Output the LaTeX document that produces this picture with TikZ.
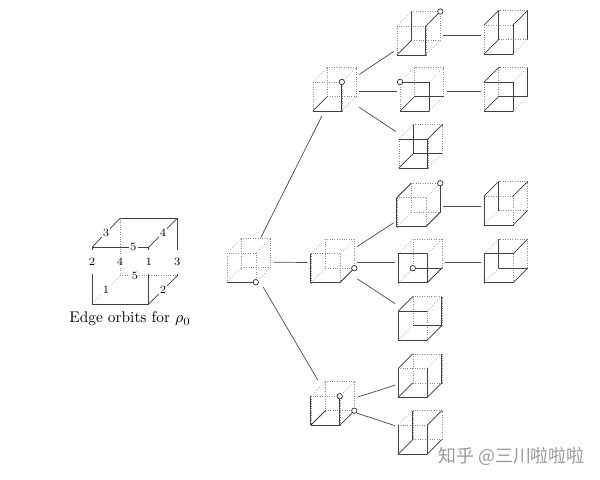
\documentclass[tikz,border=0pt]{standalone}
\usepackage{fontspec}
\usetikzlibrary{calc}
\newfontfamily\cjkfont{Noto Sans CJK SC}
\tikzset{
    % Cube parts
    cubebox/.style={
        rectangle,
        minimum size=30.6pt,
        inner sep=0pt,
        yshift=-1pt
    },
    hiddenedge/.style={
        dash pattern=on 0.5pt off 1pt,
        line width=0.28pt,
        draw=black!45
    },
    solidedge/.style={
        line width=0.45pt,
        draw=black!75
    },
    marker/.style={
        circle,
        draw=black!80,
        fill=white,
        line width=0.45pt,
        minimum size=3.4pt,
        inner sep=0pt
    },
    % Tree connectors
    link/.style={
        line width=0.45pt,
        draw=black!70
    },
    orbitlabel/.style={
        font=\scriptsize,
        fill=white,
        inner sep=0.8pt
    },
    gaplabel/.style={
        font=\scriptsize,
        fill=white,
        inner sep=0pt,
        minimum width=5pt,
        minimum height=14.4pt
    }
}
% name, centre, solid edges
\newcommand{\cubegraph}[3]{
    \node[cubebox] (#1) at (#2) {};
    \coordinate (#1-a) at ($(#2)+(-21.7,21.7)$);
    \coordinate (#1-b) at ($(#2)+(7.3,21.7)$);
    \coordinate (#1-c) at ($(#2)+(7.3,-7.3)$);
    \coordinate (#1-d) at ($(#2)+(-21.7,-7.3)$);
    \coordinate (#1-e) at ($(#2)+(-7.2,7.2)$);
    \coordinate (#1-f) at ($(#2)+(21.8,7.2)$);
    \coordinate (#1-g) at ($(#2)+(21.8,-21.8)$);
    \coordinate (#1-h) at ($(#2)+(-7.2,-21.8)$);
    \foreach \u/\v in {a/b,b/c,c/d,d/a,e/f,f/g,g/h,h/e,a/e,b/f,c/g,d/h}
        \draw[hiddenedge] (#1-\u) -- (#1-\v);
    \foreach \u/\v in {#3}
        \draw[solidedge] (#1-\u) -- (#1-\v);
}
\begin{document}
\begin{tikzpicture}[x=0.625pt, y=-0.625pt]
    \useasboundingbox (0,0) rectangle (600,480);

    % Edge orbits
    \coordinate (oa) at (92,304);
    \coordinate (ob) at (148.7,304);
    \coordinate (oc) at (148.7,247.3);
    \coordinate (od) at (92,247.3);
    \coordinate (oe) at (120,275.7);
    \coordinate (of) at (177.3,275.7);
    \coordinate (og) at (177.3,218.3);
    \coordinate (oh) at (120,218.3);
    \draw[hiddenedge] (oa) -- node[orbitlabel] (one) {1} (oe);
    \draw[hiddenedge] (oe) -- node[orbitlabel, pos=0.26] (fivelow) {5} (of);
    \draw[hiddenedge] (oe) -- (oh);
    \draw[solidedge] (oa) -- (ob);
    \draw[solidedge] (od) -- node[orbitlabel, pos=0.73] (fivetop) {5} (oc);
    \draw[solidedge] (oh) -- (og);
    \draw[solidedge] (od) -- node[orbitlabel] (three) {3} (oh);
    \draw[solidedge] (oc) -- node[orbitlabel] (four) {4} (og);
    \draw[solidedge] (ob) -- node[orbitlabel] (two) {2} (of);
    \draw[solidedge] (oa) -- (od);
    \draw[solidedge] (ob) -- (oc);
    \draw[solidedge] (of) -- (og);
    \node[gaplabel] (twomid) at (92,262) {2};
    \node[gaplabel, minimum height=8pt] (fourmid) at (120,262) {4};
    \node[gaplabel] (onemid) at (148.7,262) {1};
    \node[gaplabel] (threemid) at (177.3,262) {3};
    \node[font=\fontsize{9.6pt}{11pt}\selectfont] (caption) at (130,319) {Edge orbits for $\rho_0$};

    % Tree of cubes
    \cubegraph{root}{248.5,260.5}{a/b}
    \cubegraph{upper}{334.5,89.3}{a/b,a/e,b/c}
    \cubegraph{middle}{332.5,261}{a/b,a/d,b/f}
    \cubegraph{lower}{332.5,403.5}{a/b,a/d,a/e,b/c,b/f}

    \cubegraph{upperA}{418.5,33.3}{a/b,a/e,e/h,b/c,c/g}
    \cubegraph{upperB}{421.8,89.3}{a/b,a/e,e/f,b/c,c/d}
    \cubegraph{upperC}{420.5,146.3}{a/b,a/e,e/f,b/c,c/d,c/g,e/h}
    \cubegraph{upperAA}{505.8,32.3}{a/b,a/e,e/h,h/d,b/c,c/g,g/f}
    \cubegraph{upperBB}{505.8,89.3}{a/b,a/e,e/f,b/c,c/d,d/h,f/g}

    \cubegraph{middleA}{418.5,205}{a/b,a/d,d/h,b/f,f/g}
    \cubegraph{middleB}{420,261}{a/b,a/d,d/c,b/c,b/f,f/e}
    \cubegraph{middleC}{420,318.3}{a/b,a/d,d/c,d/h,b/f,f/e,f/g}
    \cubegraph{middleAA}{505.8,203.3}{a/b,a/d,d/h,h/e,b/f,c/g}
    \cubegraph{middleBB}{505.8,261}{a/b,a/d,d/c,c/g,b/f,f/e,e/h}

    \cubegraph{lowerA}{420,375.6}{a/b,a/d,d/h,a/e,b/c,b/f,f/g}
    \cubegraph{lowerB}{420,432.3}{a/b,a/d,a/e,e/h,b/c,b/f,c/g}

    % Open vertices
    \node[marker] (rootmark) at (root-b) {};
    \node[marker] (uppermark) at (upper-c) {};
    \node[marker] (middlemark) at (middle-f) {};
    \node[marker] (lowermarkA) at (lower-c) {};
    \node[marker] (lowermarkB) at (lower-f) {};
    \node[marker] (upperAmark) at (upperA-g) {};
    \node[marker] (upperBmark) at (upperB-d) {};
    \node[marker] (middleAmark) at (middleA-g) {};
    \node[marker] (middleBmark) at (middleB-e) {};

    % Connectors
    \draw[link] (root) -- (upper);
    \draw[link] (root) -- (middle);
    \draw[link] (root) -- (lower);
    \draw[link] (upper) -- (upperA);
    \draw[link] (upper) -- (upperB);
    \draw[link] (upper) -- (upperC);
    \draw[link] (upperA.east) -- (upperAA.west |- upperA.east);
    \draw[link] (upperB) -- (upperBB);
    \draw[link] (middle) -- (middleA);
    \draw[link] (middle) -- (middleB);
    \draw[link] (middle) -- (middleC);
    \draw[link] (middleA.east) -- (middleAA.west |- middleA.east);
    \draw[link] (middleB) -- (middleBB);
    \draw[link] (lower) -- (lowerA);
    \draw[link] (lower) -- (lowerB);

    \node[font=\cjkfont\fontsize{11.2pt}{13pt}\selectfont, text=black!40] (mark) at (511.5,456) {知乎 @三川啦啦啦};
\end{tikzpicture}
\end{document}
